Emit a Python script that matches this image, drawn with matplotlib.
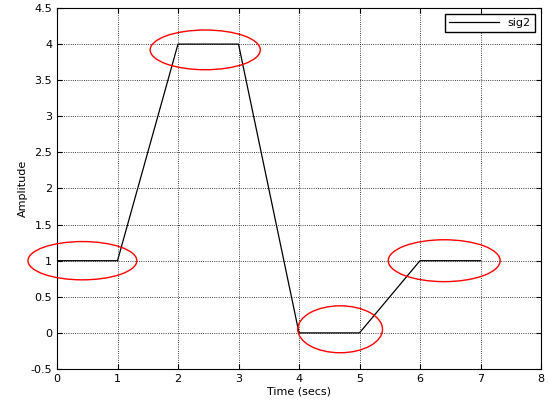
import matplotlib
matplotlib.use("Agg")
import matplotlib.pyplot as plt
from matplotlib.patches import Ellipse

t = [0, 1, 2, 3, 4, 5, 6, 7]
sig2 = [1, 1, 4, 4, 0, 0, 1, 1]
ell_cx = [0.42, 2.45, 4.68, 6.4]
ell_cy = [1.0, 3.92, 0.05, 1.0]
ell_w = [1.8, 1.82, 1.4, 1.85]
ell_h = [0.53, 0.55, 0.65, 0.58]

fig = plt.figure(figsize=(5.5, 4.09), dpi=100)
ax = fig.add_axes([57/550, 40/409, 484/550, 361/409])
ax.plot(t, sig2, color='black', lw=0.9, label='sig2')
for cx, cy, w, h in zip(ell_cx, ell_cy, ell_w, ell_h):
    ax.add_patch(Ellipse((cx, cy), w, h, fill=False, edgecolor='red', lw=1.0, clip_on=False, zorder=5))
ax.set_xlim(0, 8)
ax.set_ylim(-0.5, 4.5)
ax.set_xticks(range(9))
ax.set_yticks([-0.5 + 0.5*i for i in range(11)])
ax.set_yticklabels(['-0.5', '0', '0.5', '1', '1.5', '2', '2.5', '3', '3.5', '4', '4.5'])
ax.grid(True, color='black', linestyle=':', lw=0.6)
ax.tick_params(labelsize=8, direction='in', top=True, right=True)
ax.set_xlabel('Time (secs)', fontsize=8, labelpad=2)
ax.set_ylabel('Amplitude', fontsize=8, labelpad=2)
leg = ax.legend(loc='upper right', fontsize=8, fancybox=False, framealpha=1, edgecolor='black',
                handlelength=4.5)
fig.savefig('out.png', dpi=100)
